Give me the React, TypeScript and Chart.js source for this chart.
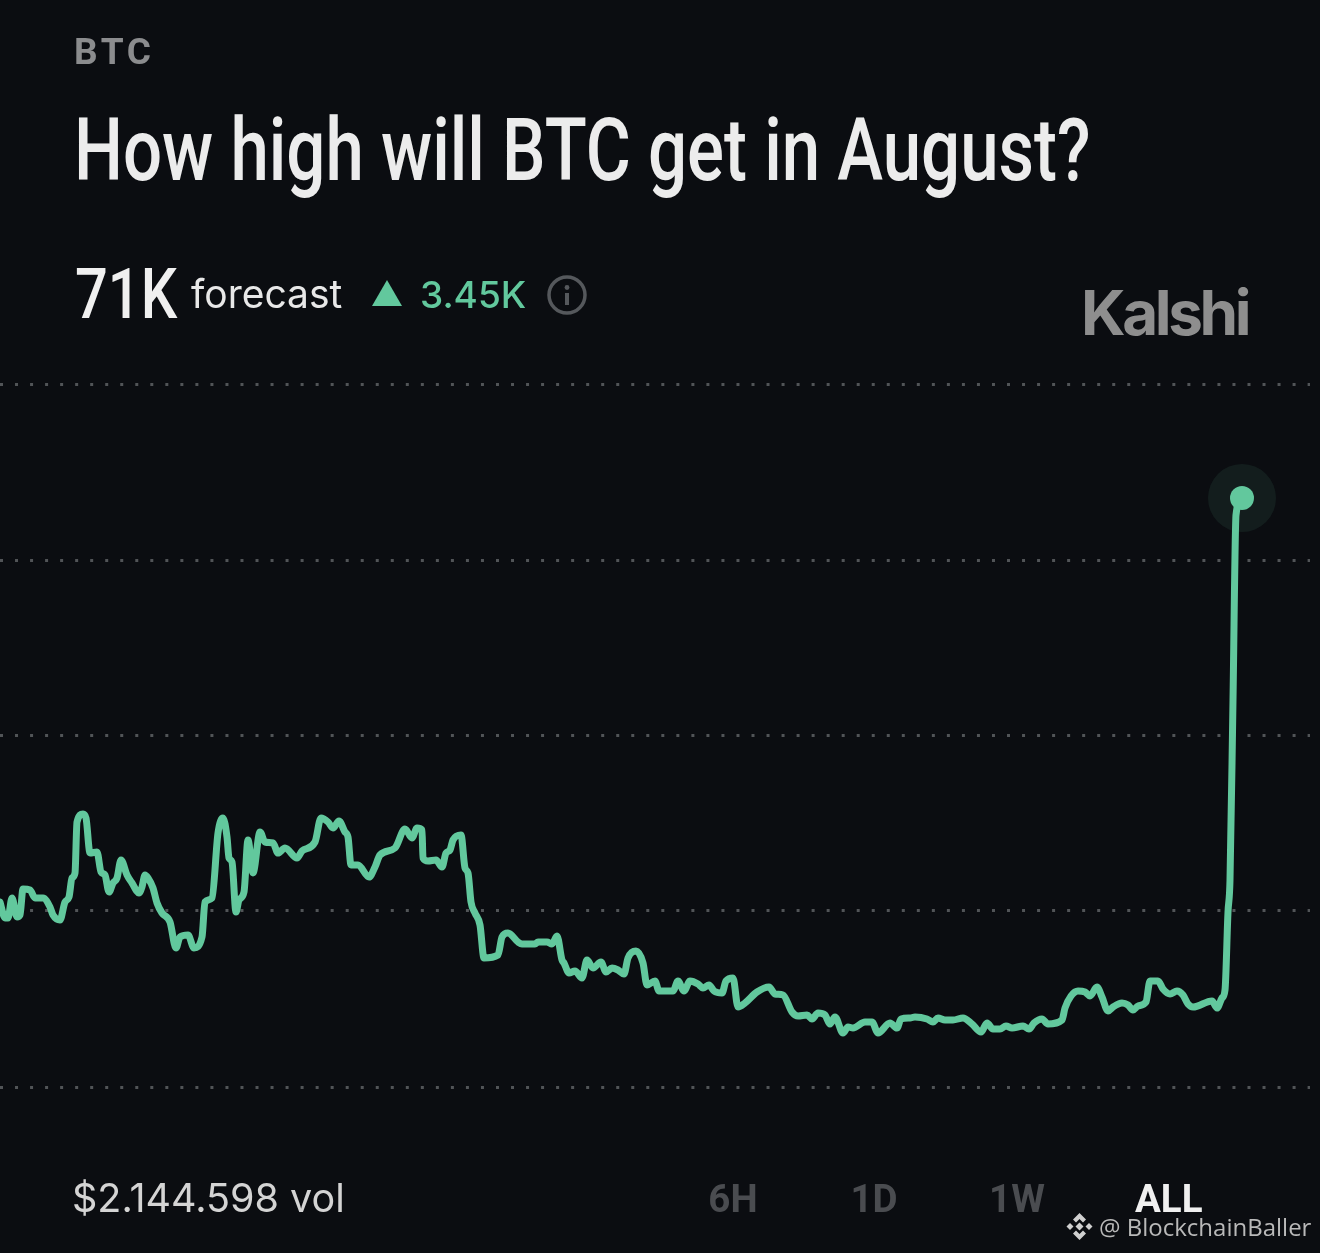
import React, { useEffect, useRef } from "react";
import { Chart, registerables } from "chart.js";

Chart.register(...registerables);

// hours since the market opened
const hours = [0,5,8,12,17,20,23,30,35,43,50,53,60,65,69,72,75,77,83,86,90,97,101,105,109,113,117,121,127,132,139,142,145,148,153,157,162,170,176,180,188,194,202,205,212,218,223,227,229,232,236,239,244,248,253,260,265,273,278,285,297,302,315,321,328,333,339,345,348,351,358,369,375,380,395,405,412,417,
422,423,428,436,442,446,450,453,461,465,468,471,475,480,484,498,502,508,518,522,535,538,547,552,557,562,564,569,575,582,587,593,601,606,612,618,624,628,636,643,647,655,659,673,678,684,690,698,703,709,714,722,726,733,738,745,757,769,775,783,792,798,807,812,818,825,830,835,843,848,853,865,872,878,890,897,901,910,915,927,933,938,945,953,963,972,981,987,993,1000,1006,1012,1023,1029,1034,1042,1048,1062,1065,1071,1078,1085,1090,1097,1102,1108,1113,1122,1128,1133,1138,1146,1150,1158,1163,1170,1177,1183,1188,1193,1212,1217,1222,1225,1228,1230,1233,1236,1242];

// forecast, thousands of USD
const forecast = [66.96,66.80,66.80,67.00,66.81,66.83,67.09,67.08,67.00,67.00,66.91,66.83,66.78,66.96,67.01,67.20,67.25,67.76,67.84,67.80,67.45,67.46,67.26,67.23,67.06,67.15,67.20,67.38,67.23,67.15,67.05,67.11,67.23,67.20,67.10,66.95,66.85,66.76,66.50,66.61,66.63,66.50,66.61,66.96,67.00,67.65,67.80,67.61,67.40,67.36,66.86,66.98,67.06,67.58,67.25,67.66,67.56,67.55,67.45,67.50,67.40,67.47,67.56,67.80,67.76,67.70,67.77,67.66,67.61,67.33,67.33,67.21,67.31,67.43,67.50,67.69,67.60,67.70,
67.68,67.40,67.37,67.38,67.31,67.45,67.48,67.58,67.63,67.30,67.25,66.96,66.85,66.73,66.40,66.43,66.61,66.65,66.56,66.54,66.54,66.56,66.56,66.54,66.62,66.38,66.35,66.25,66.27,66.20,66.38,66.30,66.36,66.26,66.30,66.28,66.24,66.40,66.47,66.35,66.13,66.17,66.07,66.07,66.17,66.07,66.17,66.14,66.10,66.13,66.07,66.05,66.17,66.20,65.91,65.95,66.06,66.11,66.04,66.03,65.86,65.82,65.83,65.79,65.85,65.83,65.74,65.81,65.65,65.71,65.70,65.76,65.76,65.65,65.75,65.70,65.79,65.80,65.81,65.79,65.76,65.80,65.78,65.78,65.80,65.74,65.66,65.75,65.69,65.69,65.72,65.70,65.72,65.69,65.75,65.79,65.74,65.78,65.90,66.02,66.07,66.06,66.02,66.11,66.01,65.87,65.91,65.95,65.93,65.88,65.92,65.96,66.17,66.17,66.09,66.04,66.07,66.03,65.94,65.91,65.97,65.90,66.00,66.08,66.86,67.18,68.98,70.83,71.00];

const gridValues = [72.14, 70.38, 68.62, 66.87, 65.11];
const ranges = ["6H", "1D", "1W"];
const rangeX = [733, 874, 1017];

const GREEN = "#62c89d";
const BG = "#0b0d11";

function T(p: { x: number; y: number; size: number; color: string; font?: string; weight?: number; sx?: number; ls?: number; anchor?: string; children: React.ReactNode }) {
  const tx = p.anchor === "middle" ? "translateX(-50%) " : "";
  return (
    <div
      style={{
        position: "absolute",
        left: p.x,
        top: p.y,
        fontFamily: p.font || "Roboto",
        fontSize: p.size,
        fontWeight: p.weight || 400,
        color: p.color,
        letterSpacing: p.ls || 0,
        lineHeight: 1,
        whiteSpace: "nowrap",
        transform: `${tx}translateY(-50%) scaleX(${p.sx || 1})`,
        transformOrigin: "left center",
      }}
    >
      {p.children}
    </div>
  );
}

export default function App() {
  const ref = useRef<HTMLCanvasElement>(null);
  useEffect(() => {
    document.body.style.margin = "0";
    document.body.style.background = BG;
    const points = hours.map((h, i) => ({ x: h, y: forecast[i] }));
    const last = points[points.length - 1];
    const chart = new Chart(ref.current!, {
      type: "line",
      data: {
        datasets: [
          {
            data: points,
            borderColor: GREEN,
            borderWidth: 7,
            borderJoinStyle: "round",
            borderCapStyle: "round",
            tension: 0.25,
            cubicInterpolationMode: "monotone",
            pointRadius: 0,
            order: 2,
          },
          {
            data: [last],
            showLine: false,
            pointRadius: 12,
            pointBackgroundColor: GREEN,
            pointBorderWidth: 0,
            order: 1,
          },
          {
            data: [last],
            showLine: false,
            pointRadius: 34,
            pointBackgroundColor: "rgba(98,200,157,0.09)",
            pointBorderWidth: 0,
            order: 3,
          },
        ],
      },
      options: {
        animation: false,
        responsive: false,
        maintainAspectRatio: false,
        layout: { autoPadding: false, padding: { left: 0, right: 10, top: 0, bottom: 0 } },
        plugins: { legend: { display: false }, tooltip: { enabled: false } },
        scales: {
          x: { type: "linear", min: 0, max: 1310, display: false },
          y: {
            min: 63.45,
            max: 75.98,
            afterBuildTicks: (s: any) => {
              s.ticks = gridValues.map((value) => ({ value }));
            },
            ticks: { display: false },
            border: { display: false, dash: [3, 12.03] },
            grid: { color: "#515457", lineWidth: 3, drawTicks: false },
          },
        },
      },
    } as any);
    return () => chart.destroy();
  }, []);

  return (
    <div style={{ position: "relative", width: 1320, height: 1253, background: BG, overflow: "hidden" }}>
      <canvas ref={ref} width={1320} height={1253} style={{ position: "absolute", left: 0, top: 0, display: "block" }} />
      <T x={74} y={51} size={37} color="#8b8c8e" weight={700} ls={3.6}>BTC</T>
      <T x={74} y={150} size={87} color="#ececec" weight={500} sx={0.793}>How high will BTC get in August?</T>
      <T x={75} y={294} size={70} color="#f0f0f0" weight={500} sx={0.825}>71K</T>
      <T x={191} y={293} size={39} color="#e8e8e8" font="Inter">forecast</T>
      <svg style={{ position: "absolute", left: 372, top: 279 }} width={30} height={28}>
        <polygon points="15,1 30,27 0,27" fill={GREEN} />
      </svg>
      <T x={420} y={294} size={37} color={GREEN} weight={500} font="Inter">3.45K</T>
      <svg style={{ position: "absolute", left: 547, top: 275 }} width={40} height={40}>
        <circle cx={20} cy={20} r={18} fill="none" stroke="#55585c" strokeWidth={3.5} />
        <rect x={18} y={18} width={4} height={12} fill="#55585c" />
        <circle cx={20} cy={12.5} r={2.4} fill="#55585c" />
      </svg>
      <T x={1081} y={313} size={62} color="#8e8e8e" weight={700} ls={-3.4} font="Inter">Kalshi</T>
      <T x={72} y={1199} size={39.5} color="#d4d4d4" font="Inter">$2.144.598 vol</T>
      {ranges.map((r, i) => (
        <T key={r} x={rangeX[i]} y={1199} size={38.5} color="#4a4c50" weight={700} anchor="middle">{r}</T>
      ))}
      <T x={1135} y={1199} size={38.5} color="#f0f0f0" weight={700}>ALL</T>
      <svg style={{ position: "absolute", left: 1066, top: 1213 }} width={27} height={27} viewBox="0 0 27 27" fill="#d0d0d0">
        <polygon points="13.5,0 20,6.5 17,9.5 13.5,6 10,9.5 7,6.5" />
        <polygon points="13.5,27 7,20.5 10,17.5 13.5,21 17,17.5 20,20.5" />
        <polygon points="13.5,9.5 17.5,13.5 13.5,17.5 9.5,13.5" />
        <polygon points="4,10 7.5,13.5 4,17 0.5,13.5" />
        <polygon points="23,10 26.5,13.5 23,17 19.5,13.5" />
      </svg>
      <T x={1099} y={1227} size={24} color="#b9b9b9" font="Open Sans">@ BlockchainBaller</T>
    </div>
  );
}
